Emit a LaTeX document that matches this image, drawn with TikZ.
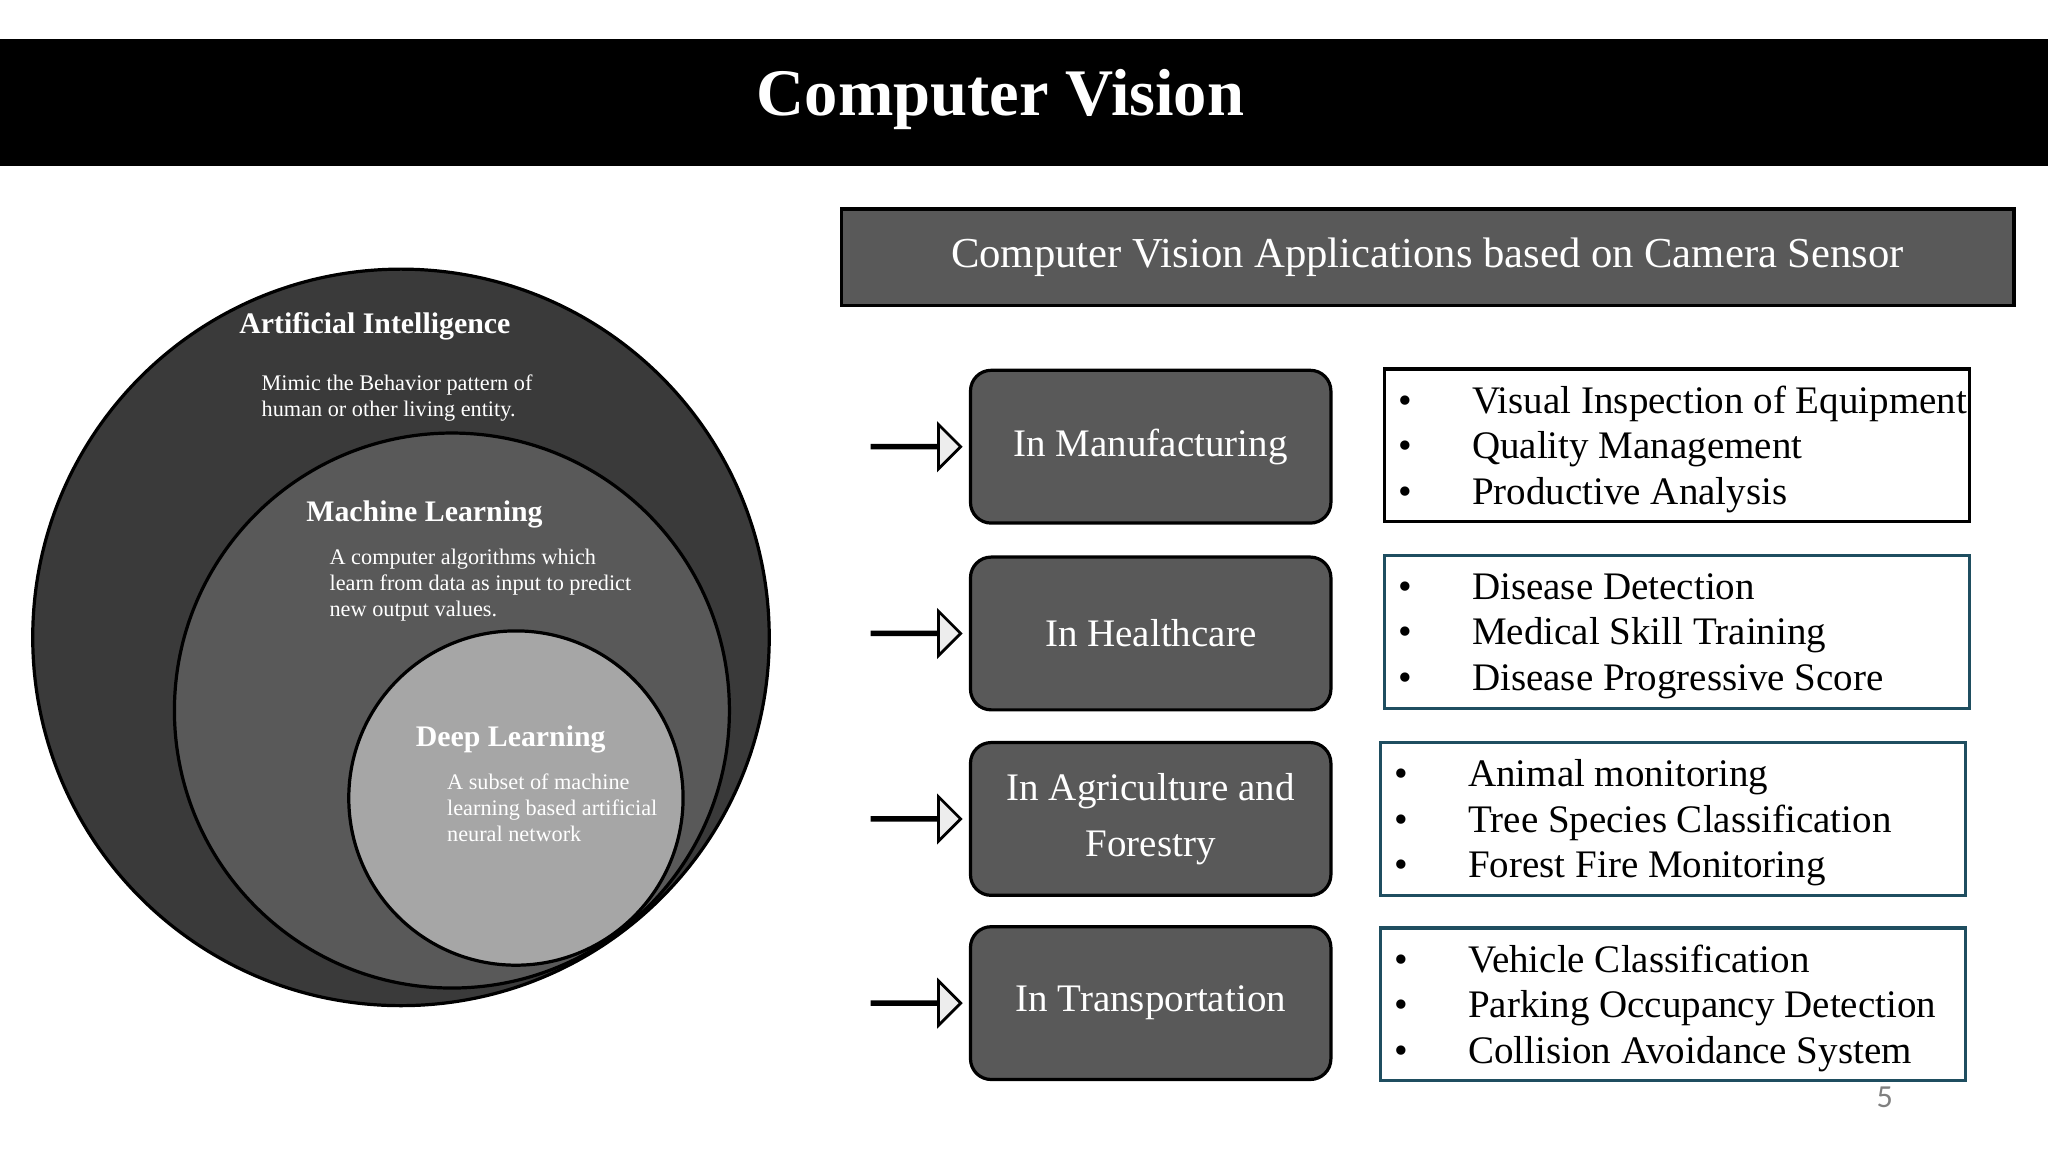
\documentclass[tikz,border=0pt]{standalone}
\usepackage{fontspec}
\setmainfont{Liberation Serif}
\newfontfamily\pagefont{Carlito}
\usetikzlibrary{shapes.arrows,positioning}
\definecolor{aigray}{HTML}{3A3A3A}
\definecolor{boxgray}{HTML}{595959}
\definecolor{dlgray}{HTML}{A6A6A6}
\definecolor{arrowgray}{HTML}{EDEDED}
\definecolor{tealline}{HTML}{1F4E60}
\newcommand{\itm}{\makebox[1.9em][l]{\textbullet}}

\begin{document}
\begin{tikzpicture}[x=0.02cm,y=-0.02cm,
    circ/.style={circle,draw=black,line width=1.4pt,inner sep=0},
    head/.style={font=\bfseries\fontsize{13}{15}\selectfont,text=white},
    small/.style={font=\fontsize{9.7}{11.3}\selectfont,text=white,align=left,anchor=north west,inner sep=0},
    field/.style={rounded corners=9pt,draw=black,line width=1.4pt,fill=boxgray,text=white,
        minimum width=5.52cm,minimum height=2.34cm,align=center,font=\fontsize{17}{24.5}\selectfont},
    bigarrow/.style={single arrow,draw=black,line width=1.2pt,fill=arrowgray,inner sep=0,
        minimum height=1.36cm,minimum width=0.64cm,single arrow head extend=0.32cm,single arrow tip angle=90},
    list/.style={draw=tealline,line width=1.4pt,minimum width=8.96cm,minimum height=2.34cm},
    items/.style={font=\fontsize{17}{19.9}\selectfont,align=left,anchor=west,inner sep=0}]
  \useasboundingbox (0,0) rectangle (1568,882);
  % title bar
  \fill[black] (0,30) rectangle (1568,127);
  \node[text=white,font=\bfseries\fontsize{29}{34}\selectfont] (title) at (766,76) {Computer Vision};
  % header
  \node[draw=black,line width=1.4pt,fill=boxgray,text=white,minimum width=17.96cm,minimum height=1.48cm,
        font=\fontsize{18.6}{22}\selectfont] (header) at (1093,197) {Computer Vision Applications based on Camera Sensor};
  % nested circles
  \node[circ,fill=aigray,minimum size=11.28cm] (ai) at (307,488) {};
  \node[circ,fill=boxgray,minimum size=8.5cm] (ml) at (346,544) {};
  \node[circ,fill=dlgray,minimum size=5.12cm] (dl) at (395,611) {};
  \node[head] (aititle) at (287,250) {Artificial Intelligence};
  \node[small] (aitext) at (200,287) {Mimic the Behavior pattern of\\human or other living entity.};
  \node[head] (mltitle) at (325,394) {Machine Learning};
  \node[small] (mltext) at (252,420) {A computer algorithms which\\learn from data as input to predict\\new output values.};
  \node[head] (dltitle) at (391,566) {Deep Learning};
  \node[small] (dltext) at (342,592) {A subset of machine\\learning based artificial\\neural network};
  % application rows
  \node[bigarrow] (a1) at (701,342) {};
  \node[field] (manu) at (881,342) {In Manufacturing};
  \node[list,draw=black] (l1) at (1284,341) {};
  \node[items] (t1) at (1070,344) {\itm Visual Inspection of Equipment\\\itm Quality Management\\\itm Productive Analysis};
  \node[bigarrow] (a2) at (701,485) {};
  \node[field] (health) at (881,485) {In Healthcare};
  \node[list] (l2) at (1284,484) {};
  \node[items] (t2) at (1070,487) {\itm Disease Detection\\\itm Medical Skill Training\\\itm Disease Progressive Score};
  \node[bigarrow] (a3) at (701,627) {};
  \node[field] (agri) at (881,627) {In Agriculture and\\Forestry};
  \node[list] (l3) at (1281,627) {};
  \node[items] (t3) at (1067,630) {\itm Animal monitoring\\\itm Tree Species Classification\\\itm Forest Fire Monitoring};
  \node[bigarrow] (a4) at (701,768) {};
  \node[field] (trans) at (881,768) {In Transportation};
  \node[list] (l4) at (1281,769) {};
  \node[items] (t4) at (1067,772) {\itm Vehicle Classification\\\itm Parking Occupancy Detection\\\itm Collision Avoidance System};
  % page number
  \node[text=gray,font=\pagefont\fontsize{14}{16}\selectfont] (page) at (1443,840) {5};
\end{tikzpicture}
\end{document}
